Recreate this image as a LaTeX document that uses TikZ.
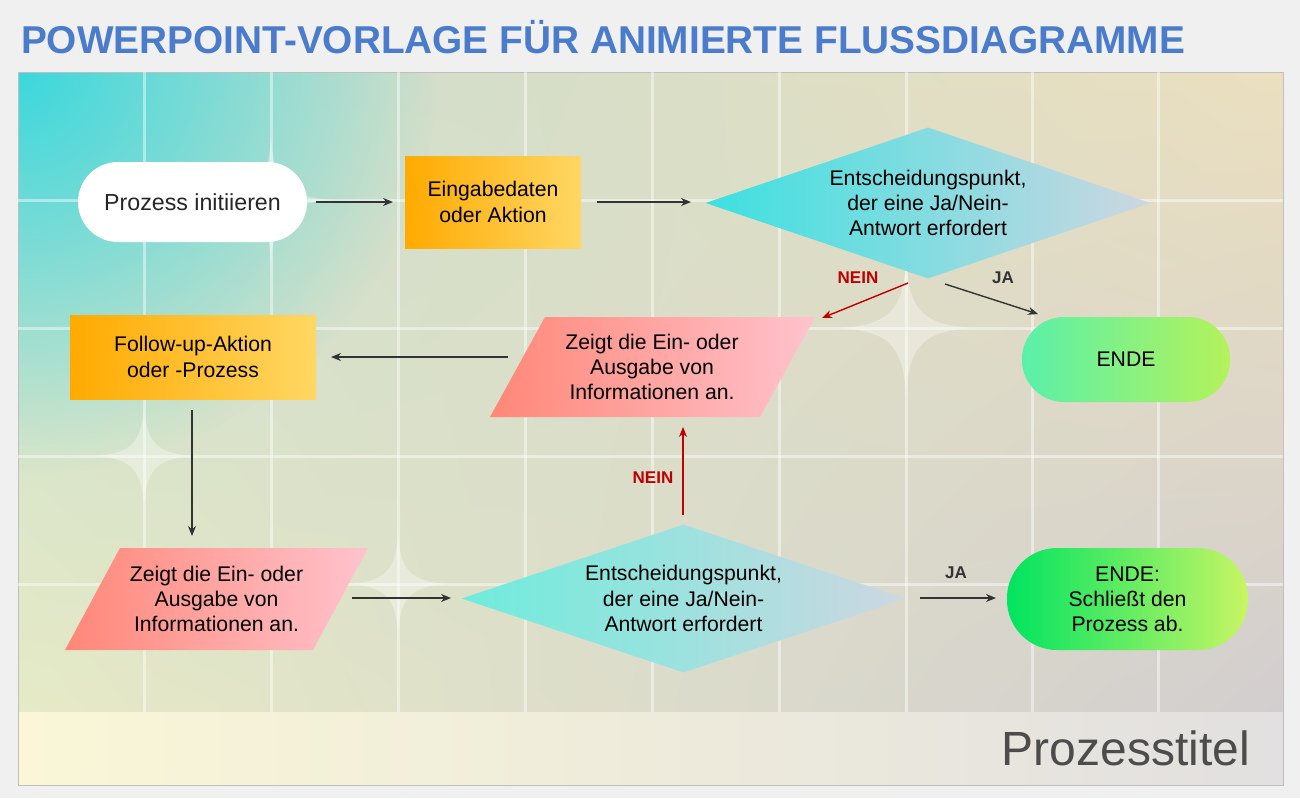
\documentclass[tikz,border=0pt]{standalone}
\usepackage{fontspec}
\setmainfont{Liberation Sans}
\usetikzlibrary{arrows.meta,shadings,fadings}
\definecolor{ttl}{HTML}{4A7CCB}
\definecolor{redc}{HTML}{C00000}
\definecolor{dk}{HTML}{333333}
\definecolor{bgcy}{HTML}{3CD8DC}
\definecolor{bgul}{HTML}{C8DECF}
\definecolor{bgur}{HTML}{EBDFBF}
\definecolor{bgll}{HTML}{E6EAC6}
\definecolor{bglr}{HTML}{D2CECF}
\definecolor{stl}{HTML}{FAF6D7}
\definecolor{str}{HTML}{E2E0E0}
\definecolor{orA}{HTML}{FFAA00}
\definecolor{orB}{HTML}{FFD764}
\definecolor{dA}{HTML}{3CE0E0}
\definecolor{dB}{HTML}{CDD7E1}
\definecolor{dC}{HTML}{6EECDC}
\definecolor{gA}{HTML}{5AF0AA}
\definecolor{gB}{HTML}{B4F25A}
\definecolor{gC}{HTML}{00E460}
\definecolor{gD}{HTML}{C8F564}
\definecolor{pA}{HTML}{FF8778}
\definecolor{pB}{HTML}{FFC3CD}
\tikzfading[name=radf, inner color=transparent!0, outer color=transparent!100]
\begin{document}
\begin{tikzpicture}[x=0.5pt,y=-0.5pt,
  box/.style={draw=none,inner sep=0pt,align=center,font=\fontsize{10.6}{12.6}\selectfont,text=black},
  ar/.style={draw=dk,line width=0.7pt,-{Stealth[length=5pt,width=4pt]}},
  arr/.style={draw=redc,line width=0.7pt,-{Stealth[length=5pt,width=4pt]}},
  lbl/.style={font=\bfseries\fontsize{8.5}{10}\selectfont},
  grid/.style={draw=white,opacity=0.45,line width=1.5pt},
  star/.style={fill=white,opacity=0.35},
  orng/.style={left color=orA,right color=orB},
  pink/.style={left color=pA,right color=pB}]
\useasboundingbox (0,0) rectangle (1300,798);
\fill[black!6] (0,0) rectangle (1300,798);
\node[anchor=west,text=ttl,font=\bfseries\fontsize{19.4}{22}\selectfont] at (14,37) {POWERPOINT-VORLAGE FÜR ANIMIERTE FLUSSDIAGRAMME};
% panel
\shade[upper left=bgul,upper right=bgur,lower left=bgll,lower right=bglr] (18,72) rectangle (1283,712);
\begin{scope}
\clip (18,72) rectangle (1283,712);
\fill[bgcy,path fading=radf] (-400,-330) rectangle (436,474);
\end{scope}
\shade[left color=stl,right color=str] (18,712) rectangle (1283,785);
\draw[black!25,line width=0.5pt] (18,72) rectangle (1283,785);
% grid
\foreach \x in {144,271,398,525,652,779,906,1032,1158} \draw[grid] (\x,72) -- (\x,712);
\foreach \y in {200,328,456,584} \draw[grid] (18,\y) -- (1283,\y);
% stars
\foreach \cx/\cy/\r in {271/200/75,144/456/60,398/584/60,906/328/80} {
  \fill[star] (\cx,\cy-\r) .. controls (\cx,\cy-\r*0.2) and (\cx+\r*0.2,\cy) .. (\cx+\r,\cy)
   .. controls (\cx+\r*0.2,\cy) and (\cx,\cy+\r*0.2) .. (\cx,\cy+\r)
   .. controls (\cx,\cy+\r*0.2) and (\cx-\r*0.2,\cy) .. (\cx-\r,\cy)
   .. controls (\cx-\r*0.2,\cy) and (\cx,\cy-\r*0.2) .. (\cx,\cy-\r) -- cycle;}
\node[anchor=east,text=black!70,font=\fontsize{24}{28}\selectfont] at (1257,748) {Prozesstitel};
% nodes
\node[box,fill=white,rounded corners=20pt,minimum width=229*0.5pt,minimum height=80*0.5pt,font=\fontsize{11.6}{14}\selectfont,text=black!85] (p) at (192.5,202) {Prozess initiieren};
\node[box,orng,minimum width=176*0.5pt,minimum height=92*0.5pt] (e) at (493,202) {Eingabedaten\\oder Aktion};
\node[box,minimum width=444*0.5pt,minimum height=150*0.5pt] (d1) at (928,203) {};
\shade[left color=dA,right color=dB] (d1.west) -- (d1.north) -- (d1.east) -- (d1.south) -- cycle;
\node[box] at (d1) {Entscheidungspunkt,\\der eine Ja/Nein-\\Antwort erfordert};
\node[box,rounded corners=21pt,left color=gA,right color=gB,minimum width=208*0.5pt,minimum height=85*0.5pt] (end1) at (1126,359.5) {ENDE};
\node[box,minimum width=325*0.5pt,minimum height=100*0.5pt] (io1) at (652,367) {};
\shade[pink] (545,317) -- (815,317) -- (760,417) -- (490,417) -- cycle;
\node[box] at (io1) {Zeigt die Ein- oder\\Ausgabe von\\Informationen an.};
\node[box,orng,minimum width=246*0.5pt,minimum height=84*0.5pt] (f) at (193,357) {Follow-up-Aktion\\oder -Prozess};
\node[box,minimum width=303*0.5pt,minimum height=102*0.5pt] (io2) at (216.5,599) {};
\shade[pink] (120,548) -- (368,548) -- (313,650) -- (65,650) -- cycle;
\node[box] at (io2) {Zeigt die Ein- oder\\Ausgabe von\\Informationen an.};
\node[box,minimum width=443*0.5pt,minimum height=147*0.5pt] (d2) at (683.5,598.5) {};
\shade[left color=dC,right color=dB] (d2.west) -- (d2.north) -- (d2.east) -- (d2.south) -- cycle;
\node[box] at (d2) {Entscheidungspunkt,\\der eine Ja/Nein-\\Antwort erfordert};
\node[box,rounded corners=25pt,left color=gC,right color=gD,minimum width=241*0.5pt,minimum height=102*0.5pt] (end2) at (1127.5,599) {ENDE:\\Schließt den\\Prozess ab.};
% connectors
\coordinate (c1a) at (316,202); \coordinate (c1b) at (393,202);
\coordinate (c2a) at (597,202); \coordinate (c2b) at (691,202);
\coordinate (a1) at (908,283); \coordinate (a2) at (822,318);
\coordinate (b1) at (945,284); \coordinate (b2) at (1038,314);
\coordinate (c3a) at (508,357); \coordinate (c3b) at (331,357);
\coordinate (c4a) at (192,410); \coordinate (c4b) at (192,536);
\coordinate (c5a) at (352,598); \coordinate (c5b) at (451,598);
\coordinate (c6a) at (683,515); \coordinate (c6b) at (683,427);
\coordinate (c7a) at (920,598); \coordinate (c7b) at (996,598);
\draw[ar] (c1a) -- (c1b);
\draw[ar] (c2a) -- (c2b);
\draw[arr] (a1) -- (a2);
\draw[ar] (b1) -- (b2);
\node[lbl,text=redc] at (858,278) {NEIN};
\node[lbl,text=dk] at (1003,278) {JA};
\draw[ar] (c3a) -- (c3b);
\draw[ar] (c4a) -- (c4b);
\draw[ar] (c5a) -- (c5b);
\draw[arr] (c6a) -- (c6b);
\node[lbl,text=redc] at (653,478) {NEIN};
\draw[ar] (c7a) -- (c7b);
\node[lbl,text=dk] at (956,573) {JA};
\end{tikzpicture}
\end{document}
